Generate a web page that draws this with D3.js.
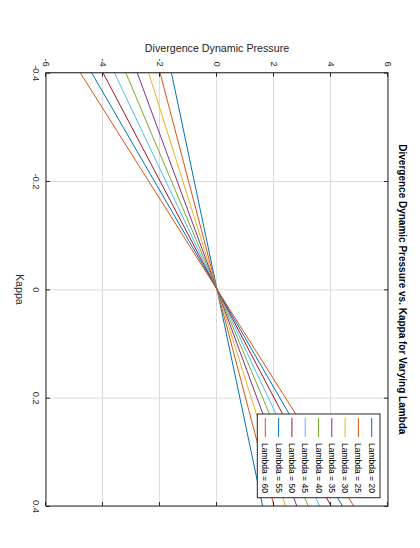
<!DOCTYPE html>
<html>
<head>
    <meta charset="utf-8">
    <style>
        body { margin: 0; background: #fff; }
        svg { display: block; font-family: "Liberation Sans", Arial, sans-serif; }
        .grid .tick line { stroke: #dcdcdc; }
        .grid .domain { display: none; }
        .grid text { display: none; }
        .ax .domain { display: none; }
        .ax .tick line { stroke: #262626; }
        .ax .tick text { font-size: 9.3px; fill: #262626; }
    </style>
</head>
<body>
<svg width="420" height="548"></svg>

<script src="https://d3js.org/d3.v7.min.js"></script>
<script>
    // values (kappa -> divergence dynamic pressure)
    const kappa = [-0.4, 0, 0.4];
    const lambdas = [20, 25, 30, 35, 40, 45, 50, 55, 60];
    const dp20 = [-1.6, 0, 1.6];
    const dp25 = [-2.0, 0, 2.0];
    const dp30 = [-2.4, 0, 2.4];
    const dp35 = [-2.8, 0, 2.8];
    const dp40 = [-3.2, 0, 3.2];
    const dp45 = [-3.6, 0, 3.6];
    const dp50 = [-4.0, 0, 4.0];
    const dp55 = [-4.4, 0, 4.4];
    const dp60 = [-4.8, 0, 4.8];
    const kappaTicks = [-0.4, -0.2, 0, 0.2, 0.4];
    const pressureTicks = [-6, -4, -2, 0, 2, 4, 6];

    const colors = ["#0072BD", "#D95319", "#EDB120", "#7E2F8E", "#77AC30", "#4DBEEE", "#A2142F"];
    const series = [dp20, dp25, dp30, dp35, dp40, dp45, dp50, dp55, dp60].map((vals, i) => ({
        name: "Lambda = " + lambdas[i],
        color: colors[i % colors.length],
        points: kappa.map((k, j) => [k, vals[j]])
    }));

    let svg = d3.select("svg");
    // the whole figure is turned a quarter turn clockwise
    let g = svg.append("g").attr("transform", "translate(420,0) rotate(90)");

    let margin = { left: 72.7, right: 506, top: 32, bottom: 374 };

    let x = d3.scaleLinear().domain([-0.4, 0.4]).range([margin.left, margin.right]);
    let y = d3.scaleLinear().domain([-6, 6]).range([margin.bottom, margin.top]);

    // grid
    g.append("g").attr("class", "grid")
        .attr("transform", `translate(0,${margin.bottom})`)
        .call(d3.axisBottom(x).tickValues(kappaTicks).tickSize(-(margin.bottom - margin.top)));
    g.append("g").attr("class", "grid")
        .attr("transform", `translate(${margin.left},0)`)
        .call(d3.axisLeft(y).tickValues(pressureTicks).tickSize(-(margin.right - margin.left)));

    // lines
    g.append("clipPath").attr("id", "plot")
        .append("rect")
        .attr("x", margin.left).attr("y", margin.top)
        .attr("width", margin.right - margin.left).attr("height", margin.bottom - margin.top);

    let line = d3.line().x(d => x(d[0])).y(d => y(d[1]));
    g.append("g").attr("clip-path", "url(#plot)")
        .selectAll("path")
        .data(series)
        .join("path")
        .attr("d", d => line(d.points))
        .attr("fill", "none")
        .attr("stroke", d => d.color)
        .attr("stroke-width", 1);

    // axes, ticks pointing inward
    g.append("g").attr("class", "ax")
        .attr("transform", `translate(0,${margin.bottom})`)
        .call(d3.axisBottom(x).tickValues(kappaTicks).tickSize(-4).tickPadding(6).tickFormat(d => String(d)));
    g.append("g").attr("class", "ax")
        .attr("transform", `translate(0,${margin.top})`)
        .call(d3.axisTop(x).tickValues(kappaTicks).tickSize(-4).tickFormat(""));
    g.append("g").attr("class", "ax")
        .attr("transform", `translate(${margin.left},0)`)
        .call(d3.axisLeft(y).tickValues(pressureTicks).tickSize(-4).tickPadding(6).tickFormat(d => String(d)));
    g.append("g").attr("class", "ax")
        .attr("transform", `translate(${margin.right},0)`)
        .call(d3.axisRight(y).tickValues(pressureTicks).tickSize(-4).tickFormat(""));

    g.append("rect")
        .attr("x", margin.left).attr("y", margin.top)
        .attr("width", margin.right - margin.left).attr("height", margin.bottom - margin.top)
        .attr("fill", "none").attr("stroke", "#262626").attr("stroke-width", 1);

    // labels
    g.append("text")
        .attr("x", (margin.left + margin.right) / 2).attr("y", 18).attr("dy", "0.35em")
        .attr("text-anchor", "middle").attr("font-weight", "bold").attr("font-size", "10px")
        .text("Divergence Dynamic Pressure vs. Kappa for Varying Lambda");

    g.append("text")
        .attr("x", (margin.left + margin.right) / 2).attr("y", 400).attr("dy", "0.35em")
        .attr("text-anchor", "middle").attr("font-size", "10.7px").attr("fill", "#262626")
        .text("Kappa");

    g.append("text")
        .attr("transform", `translate(48.3,${(margin.top + margin.bottom) / 2}) rotate(-90)`)
        .attr("dy", "0.35em")
        .attr("text-anchor", "middle").attr("font-size", "10.7px").attr("fill", "#262626")
        .text("Divergence Dynamic Pressure");

    // legend
    let legend = g.append("g").attr("transform", "translate(414,40)");
    legend.append("rect")
        .attr("width", 83.7).attr("height", 122.7)
        .attr("fill", "#fff").attr("stroke", "#262626").attr("stroke-width", 1);
    let items = legend.selectAll(".item")
        .data(series)
        .join("g")
        .attr("class", "item")
        .attr("transform", (d, i) => `translate(0,${8.3 + i * 13.3})`);
    items.append("line")
        .attr("x1", 4).attr("x2", 23)
        .attr("stroke", d => d.color).attr("stroke-width", 1);
    items.append("text")
        .attr("x", 29).attr("dy", "0.35em")
        .attr("font-size", "8.5px").attr("fill", "#000")
        .text(d => d.name);
</script>
</body>
</html>
